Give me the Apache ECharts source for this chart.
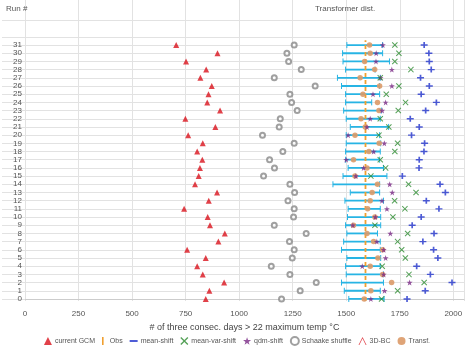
<!DOCTYPE html>
<html>
<head>
<meta charset="utf-8">
<script src="https://cdn.jsdelivr.net/npm/echarts@6/dist/echarts.min.js"></script>
<style>
  html, body { margin: 0; padding: 0; background: #fff; }
  #chart { width: 474px; height: 353px; }
</style>
</head>
<body>
<div id="chart"></div>
<script>
// runs 0..31, values (bottom row first)
const runs = Array.from({ length: 32 }, (_, i) => i);
const yTicks = runs.concat([32, 34]);
const xLabels = [0, 250, 500, 750, 1000, 1250, 1500, 1750, 2000];

const currentGCM = [844, 861, 930, 830, 804, 844, 757, 903, 933, 864, 853, 743, 858, 897, 794, 811,
  817, 828, 804, 830, 762, 889, 749, 911, 851, 857, 872, 819, 846, 752, 899, 706];
const schaake = [1198, 1285, 1360, 1237, 1150, 1248, 1257, 1235, 1313, 1164, 1254, 1257, 1228, 1259, 1237, 1114,
  1165, 1142, 1204, 1257, 1109, 1187, 1192, 1271, 1245, 1237, 1355, 1164, 1290, 1231, 1223, 1257];
const transLow = [1512, 1491, 1478, 1500, 1497, 1503, 1478, 1488, 1503, 1497, 1506, 1509, 1494, 1519, 1438, 1485,
  1509, 1497, 1497, 1500, 1500, 1519, 1500, 1488, 1497, 1497, 1478, 1459, 1497, 1485, 1483, 1503];
const transHigh = [1677, 1659, 1674, 1674, 1659, 1661, 1659, 1659, 1646, 1661, 1661, 1659, 1674, 1656, 1656, 1690,
  1674, 1656, 1659, 1661, 1656, 1698, 1659, 1664, 1619, 1656, 1656, 1659, 1635, 1702, 1670, 1670];
const transMean = [1584, 1615, 1712, 1670, 1612, 1648, 1670, 1628, 1597, 1534, 1634, 1600, 1612, 1621, 1646, 1541,
  1597, 1534, 1606, 1654, 1541, 1589, 1569, 1653, 1646, 1578, 1656, 1565, 1633, 1586, 1612, 1609];
const qdmShift = [1615, 1679, 1796, 1675, 1575, 1684, 1675, 1643, 1706, 1531, 1636, 1690, 1667, 1715, 1703, 1545,
  1581, 1500, 1628, 1678, 1509, 1597, 1612, 1668, 1684, 1625, 1713, 1660, 1713, 1639, 1640, 1671];
const meanVarShift = [1665, 1740, 1864, 1793, 1668, 1776, 1759, 1740, 1787, 1634, 1718, 1774, 1726, 1826, 1791, 1615,
  1684, 1659, 1727, 1740, 1653, 1699, 1659, 1743, 1777, 1687, 1746, 1659, 1802, 1727, 1746, 1727];
const meanShift = [1784, 1869, 1994, 1893, 1829, 1928, 1908, 1858, 1910, 1808, 1850, 1933, 1874, 1963, 1938, 1762,
  1840, 1841, 1863, 1866, 1805, 1841, 1799, 1871, 1921, 1850, 1888, 1847, 1897, 1888, 1886, 1864];
const obsValue = 1590;
const obsSpan = [-0.25, 31.6];

const FONT = "'Liberation Sans', Arial, sans-serif";
const X_PATH = 'path://M0,1.2L1.2,0L5,3.8L8.8,0L10,1.2L6.2,5L10,8.8L8.8,10L5,6.2L1.2,10L0,8.8L3.8,5Z';
const PLUS_PATH = 'path://M3.8,0H6.2V3.8H10V6.2H6.2V10H3.8V6.2H0V3.8H3.8Z';
const STAR_PATH = 'path://M5,0L6.2,3.6L10,3.6L7,5.9L8.1,9.5L5,7.3L1.9,9.5L3,5.9L0,3.6L3.8,3.6Z';
const BAR_V = 'path://M0,0L2,0L2,10L0,10Z';
const BAR_H = 'path://M0,0L10,0L10,2.5L0,2.5Z';
const TRI_THIN = 'path://M5,0L10,10L9,10L5,2L1,10L0,10Z';

const pts = vals => vals.map((v, i) => [v, runs[i]]);

const chart = echarts.init(document.getElementById('chart'));

chart.setOption({
  animation: false,
  textStyle: { fontFamily: FONT },
  title: [
    { text: 'Run #', left: 1, top: 0, textStyle: { fontSize: 8, fontWeight: 'normal', color: '#555' } },
    { text: 'Transformer dist.', left: 310, top: 0, textStyle: { fontSize: 8, fontWeight: 'normal', color: '#555' } }
  ],
  grid: { left: 25, right: 10, top: 0, bottom: 52 },
  xAxis: {
    type: 'value', min: 0, max: 2050, interval: 250,
    name: '# of three consec. days > 22 maximum temp °C',
    nameLocation: 'middle', nameGap: 20,
    nameTextStyle: { fontSize: 9, color: '#444' },
    axisLine: { show: true, lineStyle: { color: '#ccc' } },
    axisTick: { show: false },
    axisLabel: { customValues: xLabels, fontSize: 8, color: '#555', margin: 9, formatter: v => String(v) },
    splitLine: { show: true, lineStyle: { color: '#e2e2e2' } }
  },
  yAxis: {
    type: 'value', min: -0.25, max: 36.5,
    axisLine: { show: false },
    axisTick: { show: true, inside: false, length: 23, customValues: yTicks, lineStyle: { color: '#e2e2e2' } },
    axisLabel: { customValues: runs, fontSize: 8, color: '#555', margin: 3 },
    splitLine: { show: true, lineStyle: { color: '#e2e2e2' } }
  },
  legend: {
    bottom: 2, left: 'center', itemWidth: 8, itemHeight: 8, itemGap: 7,
    textStyle: { fontSize: 7, color: '#555', padding: [0, 0, 0, -2] },
    data: [
      { name: 'current GCM', icon: 'triangle' },
      { name: 'Obs', icon: BAR_V },
      { name: 'mean-shift', icon: BAR_H },
      { name: 'mean-var-shift', icon: X_PATH },
      { name: 'qdm-shift', icon: STAR_PATH },
      { name: 'Schaake shuffle', icon: 'emptyCircle' },
      { name: '3D-BC', icon: TRI_THIN },
      { name: 'Transf.', icon: 'circle' }
    ]
  },
  series: [
    {
      name: 'Transformer dist.',
      type: 'custom',
      z: 2,
      data: runs.map((r, i) => [transLow[i], transHigh[i], r]),
      encode: { x: [0, 1], y: 2 },
      renderItem: (params, api) => {
        const a = api.coord([api.value(0), api.value(2)]);
        const b = api.coord([api.value(1), api.value(2)]);
        const cap = 3;
        const style = { stroke: '#27b4e4', lineWidth: 1.8 };
        return {
          type: 'group',
          children: [
            { type: 'line', shape: { x1: a[0], y1: a[1], x2: b[0], y2: b[1] }, style },
            { type: 'line', shape: { x1: a[0], y1: a[1] - cap, x2: a[0], y2: a[1] + cap }, style: { stroke: '#27b4e4', lineWidth: 1 } },
            { type: 'line', shape: { x1: b[0], y1: b[1] - cap, x2: b[0], y2: b[1] + cap }, style: { stroke: '#27b4e4', lineWidth: 1 } }
          ]
        };
      }
    },
    {
      name: 'Obs', type: 'line', z: 3, symbol: 'none',
      data: obsSpan.map(y => [obsValue, y]),
      itemStyle: { color: '#f0a030' },
      lineStyle: { color: '#f0a030', width: 1.8, type: [4, 3] }
    },
    {
      name: 'current GCM', type: 'scatter', z: 4, symbol: 'triangle', symbolSize: 6,
      data: pts(currentGCM), itemStyle: { color: '#d9121b' }
    },
    {
      name: 'Schaake shuffle', type: 'scatter', z: 4, symbol: 'emptyCircle', symbolSize: 5,
      data: pts(schaake), itemStyle: { color: '#888', borderWidth: 1 }
    },
    {
      name: 'Transf.', type: 'scatter', z: 5, symbol: 'circle', symbolSize: 5.5,
      data: pts(transMean), itemStyle: { color: '#dc9a68', opacity: 0.9 }
    },
    {
      name: 'qdm-shift', type: 'scatter', z: 5, symbol: STAR_PATH, symbolSize: 6,
      data: pts(qdmShift), itemStyle: { color: '#7b2a86' }
    },
    {
      name: 'mean-var-shift', type: 'scatter', z: 5, symbol: X_PATH, symbolSize: 6,
      data: pts(meanVarShift), itemStyle: { color: '#2a8a2e' }
    },
    {
      name: 'mean-shift', type: 'scatter', z: 5, symbol: PLUS_PATH, symbolSize: [7, 6],
      data: pts(meanShift), itemStyle: { color: '#2233cc' }
    },
    {
      name: '3D-BC', type: 'scatter', z: 5, symbol: TRI_THIN, symbolSize: 6,
      data: [], itemStyle: { color: '#d9121b' }
    }
  ]
});
</script>
</body>
</html>
